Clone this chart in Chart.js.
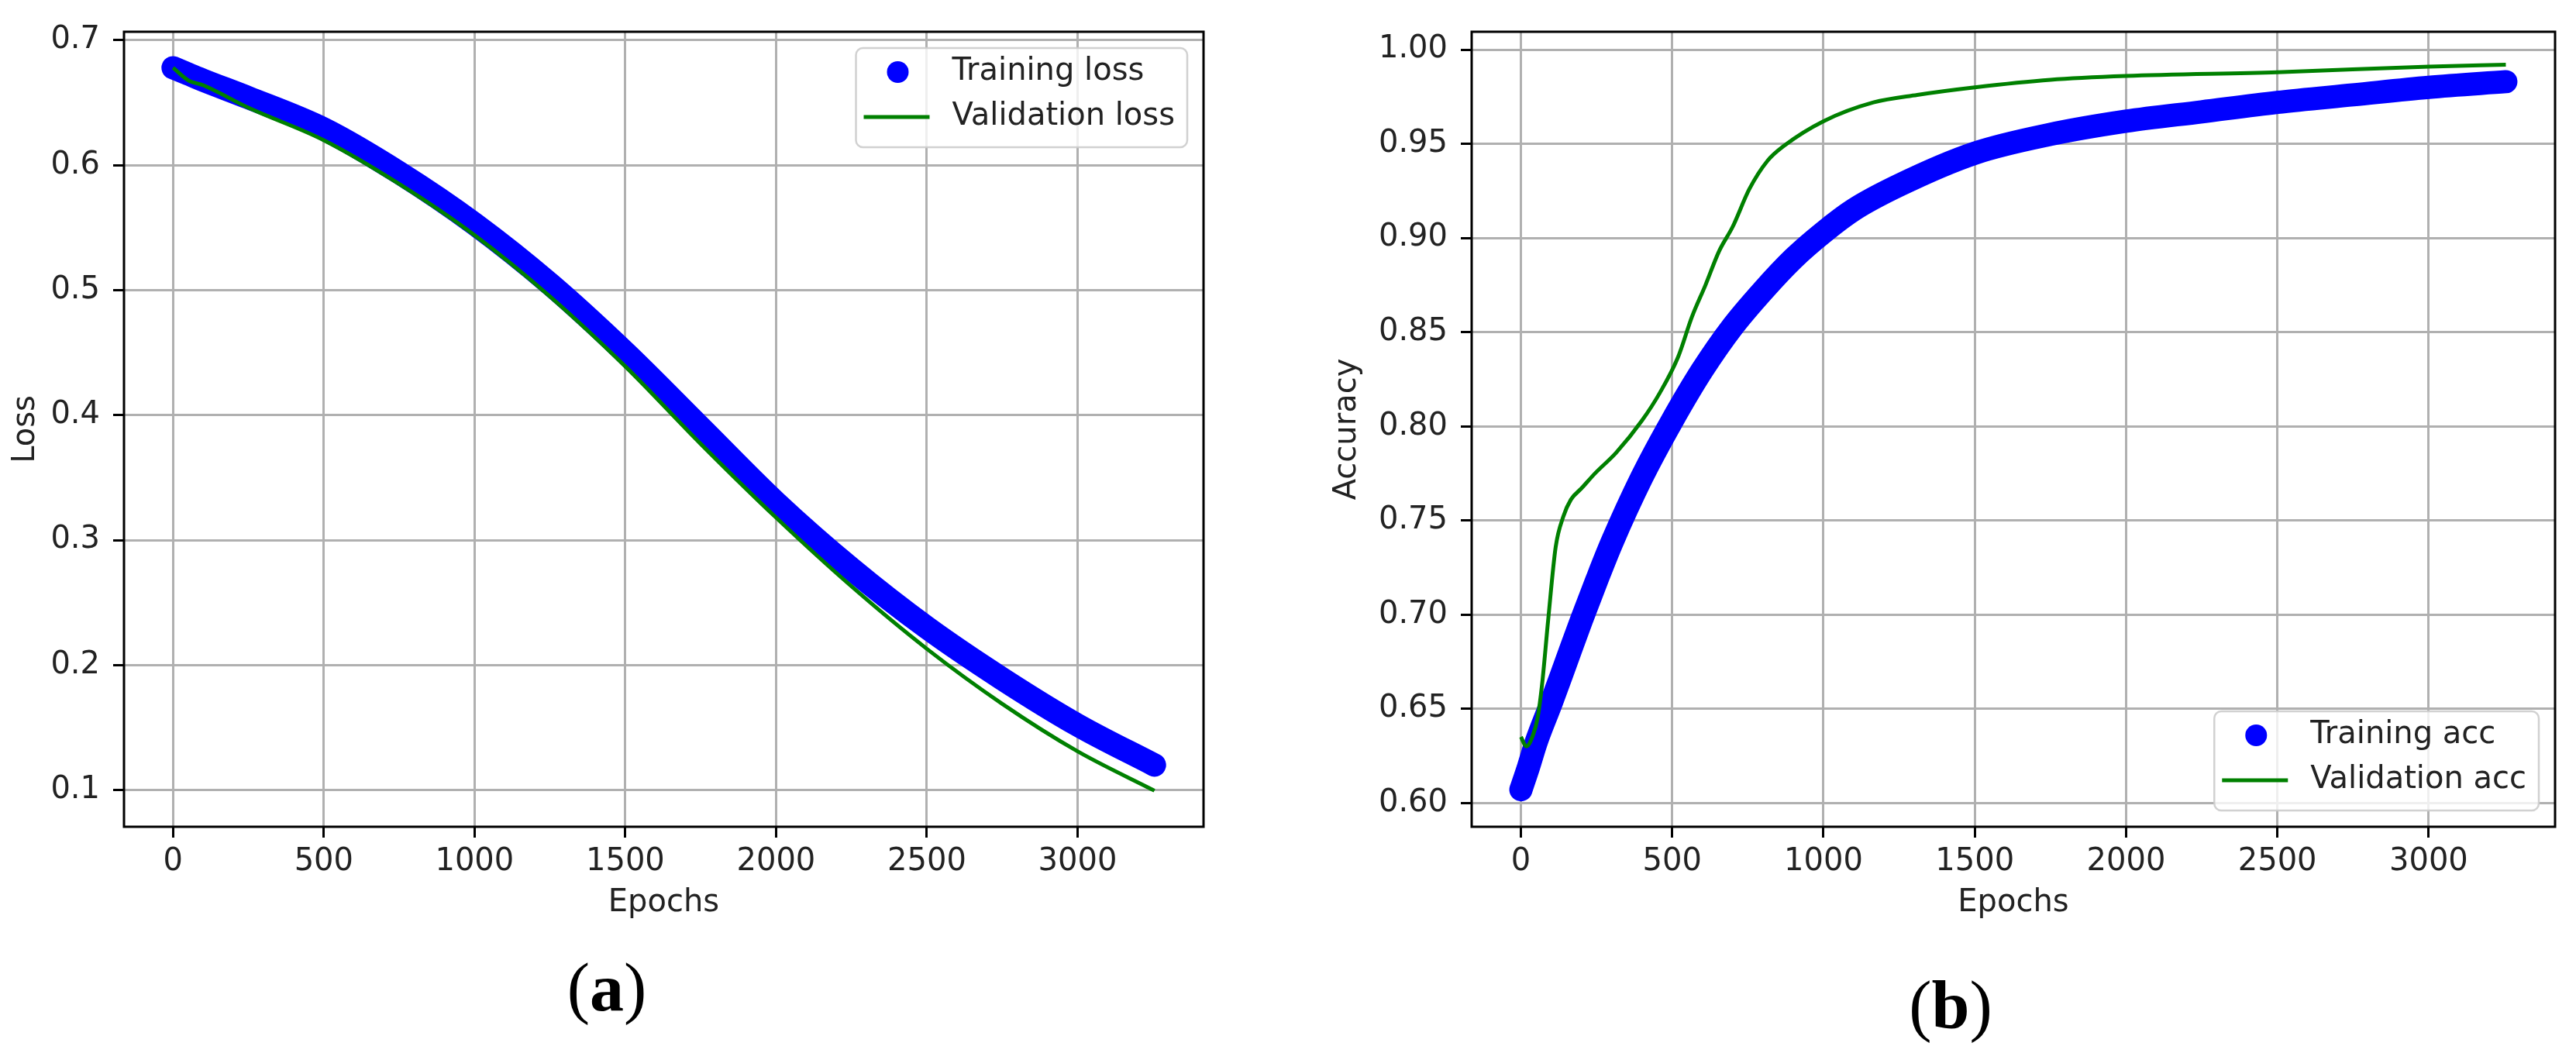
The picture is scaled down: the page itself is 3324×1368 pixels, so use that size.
<!DOCTYPE html>
<html>
<head>
<meta charset="utf-8">
<script src="https://cdn.jsdelivr.net/npm/chart.js@4.4.1/dist/chart.umd.min.js"></script>
<style>
  html, body { margin: 0; padding: 0; background: #fff; }
  body { width: 3324px; height: 1368px; position: relative; overflow: hidden; }
  canvas { position: absolute; top: 0; }
  #lossChart { left: 0; }
  #accChart { left: 1650px; }
  .caption {
    position: absolute;
    font-family: "Liberation Serif", "DejaVu Serif", serif;
    font-size: 88px;
    line-height: 1;
    color: #000;
    transform: translate(-50%, -50%);
    white-space: nowrap;
  }
</style>
</head>
<body>
<canvas id="lossChart" width="1600" height="1200"></canvas>
<canvas id="accChart" width="1674" height="1200"></canvas>
<div class="caption" style="left:783px; top:1275px">(<b>a</b>)</div>
<div class="caption" style="left:2517px; top:1298px">(<b>b</b>)</div>
<script>
// tick labels
const epochTicks = [0, 500, 1000, 1500, 2000, 2500, 3000];
const lossTicks = [0.1, 0.2, 0.3, 0.4, 0.5, 0.6, 0.7];
const accTicks = [0.60, 0.65, 0.70, 0.75, 0.80, 0.85, 0.90, 0.95, 1.00];

// (a) loss
const lossEpochs = [0, 50, 100, 250, 500, 750, 1000, 1250, 1500, 1750, 2000, 2250, 2500, 2750, 3000, 3255];
const trainLoss = [0.678, 0.673, 0.668, 0.654, 0.629, 0.594, 0.553, 0.505, 0.450, 0.390, 0.330, 0.277, 0.230, 0.189, 0.152, 0.120];
const valLoss = [0.678, 0.668, 0.664, 0.646, 0.620, 0.585, 0.544, 0.495, 0.439, 0.377, 0.318, 0.263, 0.213, 0.169, 0.131, 0.0995];

// (b) accuracy
const trainAccEpochs = [0, 25, 50, 100, 150, 200, 250, 300, 400, 500, 600, 700, 800, 900, 1000, 1100, 1250, 1500, 1750, 2000, 2250, 2500, 2750, 3000, 3255];
const trainAcc = [0.607, 0.619, 0.632, 0.653, 0.675, 0.697, 0.718, 0.738, 0.773, 0.803, 0.830, 0.853, 0.872, 0.889, 0.903, 0.915, 0.928, 0.945, 0.955, 0.962, 0.967, 0.972, 0.976, 0.980, 0.983];
const valAccEpochs = [0, 18, 40, 55, 70, 90, 115, 140, 165, 200, 245, 315, 400, 460, 520, 565, 610, 655, 700, 755, 815, 870, 1000, 1165, 1310, 1500, 1750, 2000, 2500, 3000, 3255];
const valAcc = [0.635, 0.630, 0.636, 0.645, 0.663, 0.697, 0.736, 0.752, 0.761, 0.767, 0.775, 0.786, 0.803, 0.818, 0.837, 0.858, 0.875, 0.893, 0.906, 0.926, 0.941, 0.949, 0.962, 0.972, 0.976, 0.980, 0.984, 0.986, 0.988, 0.991, 0.992];

const FONT = 'DejaVu Sans';
const TEXT = '#222';
Chart.defaults.font.family = FONT;

const toPoints = (xs, ys) => xs.map((x, i) => ({ x: x, y: ys[i] }));

// spines all round + matplotlib style legend
const frameLegend = {
  id: 'frameLegend',
  afterDatasetsDraw(chart, args, opts) {
    const { ctx, chartArea: a } = chart;
    ctx.save();
    ctx.strokeStyle = '#000';
    ctx.lineWidth = 3;
    ctx.strokeRect(a.left, a.top, a.right - a.left, a.bottom - a.top);

    const sets = chart.data.datasets;
    ctx.font = '40px "' + FONT + '"';
    const textW = Math.max(...sets.map(d => ctx.measureText(d.label).width));
    const w = 124 + textW + 16, h = 128;
    const x = a.right - 21 - w;
    const y = opts.corner === 'top' ? a.top + 21 : a.bottom - 21 - h;

    ctx.beginPath();
    ctx.roundRect(x, y, w, h, 9);
    ctx.fillStyle = 'rgba(255,255,255,0.8)';
    ctx.fill();
    ctx.strokeStyle = 'rgba(204,204,204,0.9)';
    ctx.lineWidth = 2.5;
    ctx.stroke();

    const rows = [y + 31, y + 89];
    // marker row
    ctx.beginPath();
    ctx.arc(x + 54, rows[0], 14, 0, Math.PI * 2);
    ctx.fillStyle = sets[0].borderColor;
    ctx.fill();
    // line row
    ctx.beginPath();
    ctx.moveTo(x + 10, rows[1]);
    ctx.lineTo(x + 95, rows[1]);
    ctx.strokeStyle = sets[1].borderColor;
    ctx.lineWidth = 5;
    ctx.stroke();

    ctx.fillStyle = TEXT;
    ctx.textBaseline = 'middle';
    ctx.textAlign = 'left';
    ctx.fillText(sets[0].label, x + 124, rows[0]);
    ctx.fillText(sets[1].label, x + 124, rows[1]);
    ctx.restore();
  }
};

function makeChart(id, cfg) {
  const tickFont = { family: FONT, size: 40 };
  return new Chart(document.getElementById(id), {
    type: 'line',
    data: {
      datasets: [
        {
          label: cfg.trainLabel,
          data: cfg.train,
          borderColor: '#0000ff',
          borderWidth: 30,
          borderCapStyle: 'round',
          borderJoinStyle: 'round',
          pointRadius: 0,
          cubicInterpolationMode: 'monotone',
          fill: false,
          order: 2
        },
        {
          label: cfg.valLabel,
          data: cfg.val,
          borderColor: '#008000',
          borderWidth: 5,
          pointRadius: 0,
          cubicInterpolationMode: 'monotone',
          fill: false,
          order: 1
        }
      ]
    },
    options: {
      responsive: false,
      animation: false,
      devicePixelRatio: 1,
      layout: { autoPadding: false, padding: cfg.padding },
      plugins: {
        legend: { display: false },
        tooltip: { enabled: false },
        frameLegend: { corner: cfg.legendCorner }
      },
      scales: {
        x: {
          type: 'linear',
          min: -162.75,
          max: 3417.75,
          afterBuildTicks: s => { s.ticks = epochTicks.map(v => ({ value: v })); },
          afterFit: s => { s.height = 133; },
          grid: { color: '#b0b0b0', lineWidth: 3, tickLength: 14, tickColor: '#000', tickWidth: 3 },
          border: { display: false },
          ticks: { font: tickFont, color: TEXT, padding: 8, maxRotation: 0, autoSkip: false, callback: v => String(v) },
          title: { display: true, text: 'Epochs', font: tickFont, color: TEXT, padding: { top: 0, bottom: 10 } }
        },
        y: {
          type: 'linear',
          min: cfg.yMin,
          max: cfg.yMax,
          afterBuildTicks: s => { s.ticks = cfg.yTicks.map(v => ({ value: v })); },
          afterFit: s => { s.width = cfg.yWidth; },
          grid: { color: '#b0b0b0', lineWidth: 3, tickLength: 14, tickColor: '#000', tickWidth: 3 },
          border: { display: false },
          ticks: { font: tickFont, color: TEXT, padding: 17, autoSkip: false, callback: v => v.toFixed(cfg.decimals) },
          title: { display: true, text: cfg.yTitle, font: tickFont, color: TEXT, padding: { top: cfg.yTitlePad, bottom: 0 } }
        }
      }
    },
    plugins: [frameLegend]
  });
}

makeChart('lossChart', {
  trainLabel: 'Training loss',
  valLabel: 'Validation loss',
  train: toPoints(lossEpochs, trainLoss),
  val: toPoints(lossEpochs, valLoss),
  yMin: 0.0706,
  yMax: 0.7068,
  yTicks: lossTicks,
  decimals: 1,
  yTitle: 'Loss',
  yTitlePad: 10,
  yWidth: 160,
  padding: { left: 0, top: 30, right: 47, bottom: 0 },
  legendCorner: 'top'
});

makeChart('accChart', {
  trainLabel: 'Training acc',
  valLabel: 'Validation acc',
  train: toPoints(trainAccEpochs, trainAcc),
  val: toPoints(valAccEpochs, valAcc),
  yMin: 0.5873,
  yMax: 1.0095,
  yTicks: accTicks,
  decimals: 2,
  yTitle: 'Accuracy',
  yTitlePad: 65,
  yWidth: 249,
  padding: { left: 0, top: 26, right: 27, bottom: 0 },
  legendCorner: 'bottom'
});
</script>
</body>
</html>
